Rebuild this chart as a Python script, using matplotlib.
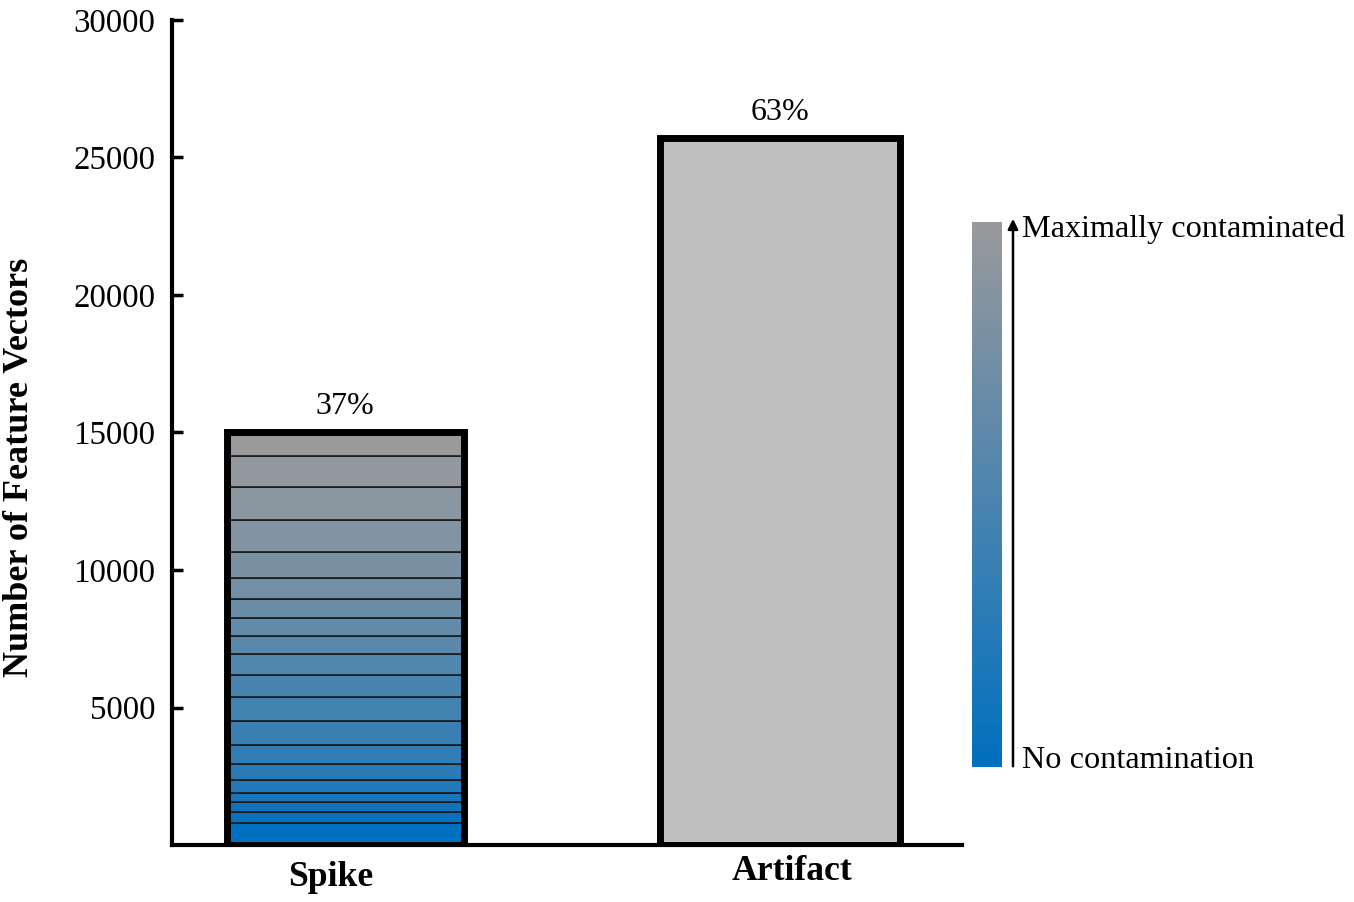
import numpy as np
import matplotlib
matplotlib.use("Agg")
import matplotlib.pyplot as plt
import matplotlib.transforms as mtransforms
from matplotlib.colors import LinearSegmentedColormap

categories = ["Spike", "Artifact"]
totals = [15000, 25700]
percent_labels = ["37%", "63%"]
# Spike bar split into contamination-level segments (bottom -> top)
spike_boundaries = [0, 789, 1189, 1553, 1880, 2353, 2934, 3636, 4509, 5371, 6171,
                    6934, 7618, 8255, 8945, 9698, 10666, 11818, 13007, 14156, 15000]
yticks = [5000, 10000, 15000, 20000, 25000, 30000]

plt.rcParams['font.family'] = ['Liberation Serif', 'DejaVu Serif']

cmap = LinearSegmentedColormap.from_list("contam", ["#0070C0", "#9A9A9C"])

fig = plt.figure(figsize=(13.54, 9.02), dpi=100)
ax = fig.add_axes([172/1354, 1-845/902, (962-172)/1354, (845-20)/902])

x = np.arange(len(categories))
width = 0.545

nseg = len(spike_boundaries) - 1
for i in range(nseg):
    b0, b1 = spike_boundaries[i], spike_boundaries[i+1]
    ax.bar(x[0], b1 - b0, bottom=b0, width=width, color=cmap(i/(nseg-1)),
           edgecolor="#1a1a1a", linewidth=1.2, zorder=2)
ax.bar(x[0], totals[0], width=width, color="none", edgecolor="black", linewidth=5, zorder=3)
ax.bar(x[1], totals[1], width=width*1.015, color="#C0C0C0", edgecolor="black", linewidth=5, zorder=3)

for xi, tot, lab in zip(x, totals, percent_labels):
    ax.annotate(lab, (xi, tot), xytext=(0, 8), textcoords="offset points",
                ha="center", va="bottom", fontsize=23)

ax.set_xlim(-0.398, 1.418)
ax.set_ylim(0, 30000)
ax.set_yticks(yticks)
ax.set_yticklabels([str(v) for v in yticks], fontsize=23.7)
ax.set_xticks([])
ax.tick_params(axis="y", direction="in", length=8, width=2.5, pad=12)
for s in ["top", "right"]:
    ax.spines[s].set_visible(False)
for s in ["left", "bottom"]:
    ax.spines[s].set_linewidth(3)

fig.text(20/1354, 1-467/902, "Number of Feature Vectors", fontsize=26, fontweight="bold",
         rotation=90, ha="center", va="center")

trans = mtransforms.blended_transform_factory(ax.transData, fig.transFigure)
ax.text(-0.034, 1-878/902, categories[0], transform=trans, ha="center", va="center",
        fontsize=25.7, fontweight="bold")
ax.text(1.028, 1-872/902, categories[1], transform=trans, ha="center", va="center",
        fontsize=25.7, fontweight="bold")

cax = fig.add_axes([972/1354, 1-767/902, 30/1354, (767-222)/902])
grad = np.linspace(0, 1, 256).reshape(-1, 1)
cax.imshow(grad, aspect="auto", cmap=cmap, origin="lower", extent=[0, 1, 0, 1])
cax.set_axis_off()

fig.add_artist(matplotlib.patches.FancyArrowPatch(
    (1013/1354, 1-769/902), (1013/1354, 1-216/902), transform=fig.transFigure,
    arrowstyle="-|>", mutation_scale=15, linewidth=1.8, color="black"))
fig.text(1022/1354, 1-229/902, "Maximally contaminated", fontsize=23.2, ha="left", va="center")
fig.text(1022/1354, 1-760/902, "No contamination", fontsize=23.2, ha="left", va="center")

fig.savefig("out.png", dpi=100)
